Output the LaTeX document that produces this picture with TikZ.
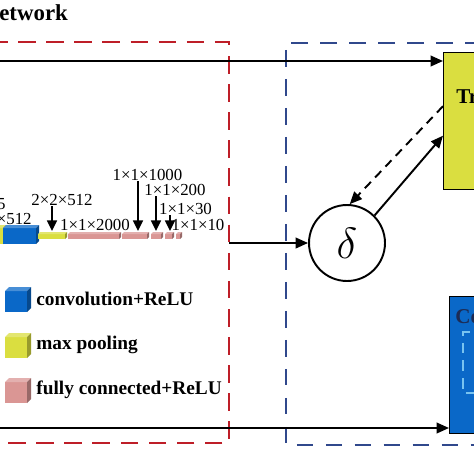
\documentclass[tikz,border=0pt]{standalone}
\usepackage{fontspec}
\setmainfont{Liberation Serif}
\usetikzlibrary{positioning,arrows.meta}

\definecolor{convblue}{RGB}{10,104,200}
\definecolor{poolyellow}{RGB}{218,222,64}
\definecolor{fcpink}{RGB}{218,150,148}
\definecolor{darkred}{RGB}{190,30,40}
\definecolor{navyblue}{RGB}{48,72,140}
\definecolor{paleblue}{RGB}{120,195,240}

\tikzset{
    redbox/.style={draw=darkred,line width=1.4pt,dash pattern=on 10pt off 6pt},
    bluebox/.style={draw=navyblue,line width=1.4pt,dash pattern=on 9.5pt off 7pt},
    flow/.style={line width=1.1pt,-{Triangle[length=7pt,width=6pt]}},
    pointer/.style={line width=1.2pt,-{Triangle[length=6pt,width=5.5pt]}},
    sizelabel/.style={font=\fontsize{9.6}{10}\selectfont,inner sep=0pt},
    legendtext/.style={font=\fontsize{11}{12}\selectfont\bfseries,anchor=west,inner sep=0pt},
    block/.style={draw=black,line width=0.8pt,anchor=north west,minimum width=2cm,minimum height=2.74cm},
}

% x, y (top left of front face), width, height, depth, colour
\newcommand{\layercube}[6]{
    \fill[#6] (#1,#2) rectangle ++(#3,#4);
    \fill[#6!75!white] (#1,#2) -- ++(#5,-#5) -- ++(#3,0) -- ++(-#5,#5) -- cycle;
    \fill[#6!70!black] (#1,#2) ++(#3,0) -- ++(#5,-#5) -- ++(0,#4) -- ++(-#5,#5) -- cycle;
}

\begin{document}
\begin{tikzpicture}[x=0.02cm,y=-0.02cm]
        \useasboundingbox (0,0) rectangle (474,474);
        % Draw title
        \node[anchor=base west,inner sep=0pt,font=\fontsize{13}{14}\selectfont\bfseries] (title) at (-1,20) {etwork};
        % Draw dashed frames
        \draw[redbox] (-10,42) -- (229,42) -- (229,443) -- (-10,443);
        \draw[bluebox] (540,43) -- (286,43) -- (286,445) -- (540,445);
        % Draw boxes on the right
        \node[block,fill=poolyellow] (train) at (443,52) {};
        \node[anchor=west,inner sep=0pt,font=\fontsize{12}{13}\selectfont\bfseries] (traintext) at (456,97) {Tr};
        \node[block,fill=convblue] (conv) at (449,296) {};
        \node[anchor=west,inner sep=0pt,font=\fontsize{12}{13}\selectfont\bfseries,text=navyblue!60!black] (convtext) at (455,317) {Co};
        \draw[paleblue,line width=0.9pt,dash pattern=on 6pt off 4pt] (540,332) -- (463,332) -- (463,393) -- (540,393);
        % Draw delta node
        \node[draw,circle,line width=1.1pt,minimum size=1.52cm,inner sep=0pt,font=\fontsize{26}{26}\selectfont] (delta) at (347,243) {$\delta$};
        % Draw connectors
        \coordinate (topin) at (0,61);
        \coordinate (midin) at (229,243);
        \coordinate (botin) at (0,428);
        \draw[flow] (topin) -- (topin -| train.west);
        \draw[flow] (midin) -- (delta.west);
        \draw[flow] (botin) -- (botin -| conv.west);
        \draw[flow,dash pattern=on 5pt off 3.5pt] ([yshift=0.3cm]train.west) -- (delta.86);
        \draw[flow] (delta.45) -- ([yshift=-0.29cm]train.west);
        % Draw layers of the network
        \layercube{-10}{228}{13}{16}{3}{poolyellow}
        \layercube{3}{228}{33}{16}{3}{convblue}
        \layercube{38}{234}{27}{5}{2}{poolyellow}
        \layercube{68}{234}{51}{5}{2}{fcpink}
        \layercube{122}{234}{25}{5}{2}{fcpink}
        \layercube{151}{234}{10}{5}{2}{fcpink}
        \layercube{165}{234}{7}{5}{2}{fcpink}
        \layercube{176}{234}{4}{5}{2}{fcpink}
        % Draw size labels
        \node[sizelabel,anchor=east] (conva) at (6,204) {5};
        \node[sizelabel,anchor=east] (convb) at (32,219) {×512};
        \node[sizelabel] (pool) at (62,200) {2×2×512};
        \node[sizelabel] (fca) at (95,225) {1×1×2000};
        \node[sizelabel] (fcb) at (147.5,175) {1×1×1000};
        \node[sizelabel] (fcc) at (175,190) {1×1×200};
        \node[sizelabel] (fcd) at (185.5,209) {1×1×30};
        \node[sizelabel] (fce) at (198,225) {1×1×10};
        \coordinate (poolpt) at (52,231);
        \coordinate (fcbpt) at (138,231);
        \coordinate (fccpt) at (156,231);
        \coordinate (fcdpt) at (170,231);
        \draw[pointer] (pool.south -| poolpt) -- (poolpt);
        \draw[pointer] (fcb.south -| fcbpt) -- (fcbpt);
        \draw[pointer] (fcc.south -| fccpt) -- (fccpt);
        \draw[pointer] (fcd.south -| fcdpt) -- (fcdpt);
        % Draw legend
        \layercube{5}{291}{22}{21}{4}{convblue}
        \node[legendtext] (convlegend) at (36,299) {convolution+ReLU};
        \layercube{5}{337}{22}{21}{4}{poolyellow}
        \node[legendtext] (poollegend) at (36,345) {max pooling};
        \layercube{5}{382}{22}{21}{4}{fcpink}
        \node[legendtext] (fclegend) at (36,390) {fully connected+ReLU};
    \end{tikzpicture}
\end{document}
